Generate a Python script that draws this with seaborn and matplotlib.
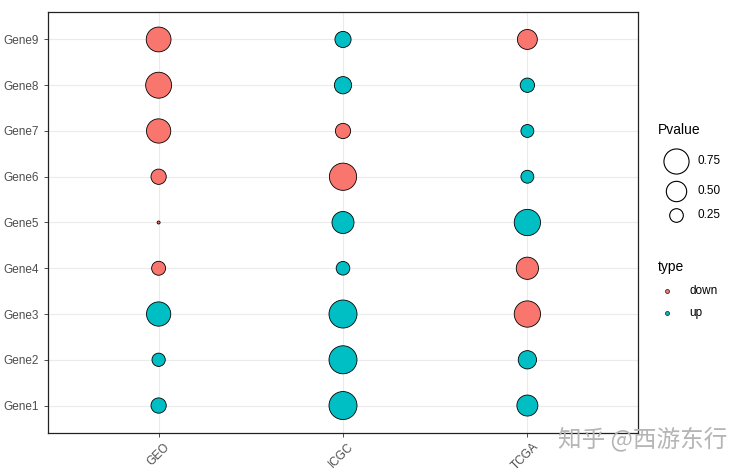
import numpy as np
import pandas as pd
import matplotlib.pyplot as plt
import matplotlib.transforms as mtransforms
import seaborn as sns

# ── data ──────────────────────────────────────────────────────────
genes = ['Gene1', 'Gene2', 'Gene3', 'Gene4', 'Gene5', 'Gene6', 'Gene7', 'Gene8', 'Gene9']
sources = ['GEO', 'ICGC', 'TCGA']

geo_p = [0.30, 0.24, 0.70, 0.26, 0.10, 0.30, 0.70, 0.80, 0.73]
icgc_p = [0.93, 0.93, 0.93, 0.25, 0.58, 0.88, 0.30, 0.37, 0.33]
tcga_p = [0.53, 0.41, 0.82, 0.59, 0.82, 0.23, 0.23, 0.27, 0.48]

geo_type = ['up', 'up', 'up', 'down', 'down', 'down', 'down', 'down', 'down']
icgc_type = ['up', 'up', 'up', 'up', 'up', 'down', 'down', 'up', 'up']
tcga_type = ['up', 'up', 'down', 'down', 'up', 'up', 'up', 'up', 'down']

legend_p = [0.75, 0.50, 0.25]
legend_types = ['down', 'up']

df = pd.DataFrame({
    'source': np.repeat(sources, len(genes)),
    'gene': genes * len(sources),
    'Pvalue': geo_p + icgc_p + tcga_p,
    'type': geo_type + icgc_type + tcga_type,
})

palette = {'down': '#F8766D', 'up': '#00BFC4'}


def diam_px(p):
    # ggplot-like area scale: diameter grows with sqrt of rescaled value
    return 3 + 25 * np.sqrt(max(p - 0.1, 0) / 0.83)


def area_pt(p):
    return (diam_px(p) * 0.72) ** 2


sizes = {p: area_pt(p) for p in df['Pvalue'].unique()}

# ── plot ──────────────────────────────────────────────────────────
sns.set_style('white')
plt.rcParams['font.family'] = ['Liberation Sans', 'DejaVu Sans']

W, H = 730, 472
fig = plt.figure(figsize=(W / 100, H / 100), dpi=100)
ax = fig.add_axes([48 / W, 1 - 433 / H, 590 / W, 421 / H])

ax.set_axisbelow(True)
ax.grid(True, color='#EBEBEB', linewidth=0.8)

sns.scatterplot(data=df, x='source', y='gene', hue='type', size='Pvalue',
                palette=palette, sizes=sizes, edgecolor='black', linewidth=0.6,
                legend=False, ax=ax, zorder=3)

ax.set_xlim(-0.6, 2.6)
ax.set_ylim(-0.6, 8.6)
ax.set_xlabel('')
ax.set_ylabel('')

for s in ax.spines.values():
    s.set_color('#222222')
    s.set_linewidth(0.9)

ax.tick_params(axis='both', which='both', length=3, width=0.6, color='#333333',
               labelsize=8.5, labelcolor='#4D4D4D', direction='out',
               bottom=True, left=True)
plt.setp(ax.get_xticklabels(), rotation=45, ha='right', va='center',
         rotation_mode='anchor')
shift = mtransforms.ScaledTranslation(9 / 100, -3 / 100, fig.dpi_scale_trans)
for lab in ax.get_xticklabels():
    lab.set_transform(lab.get_transform() + shift)

# ── legends, laid out in pixel space like ggplot guides ───────────
lg = fig.add_axes([0, 0, 1, 1], facecolor='none')
lg.set_xlim(0, W)
lg.set_ylim(H, 0)
lg.axis('off')

left = 658
lg.text(left, 130, 'Pvalue', fontsize=10, color='black', va='center', ha='left')
y = 145
for p in legend_p:
    d = diam_px(p)
    key_h = d + 7
    yc = y + key_h / 2
    lg.scatter([676], [yc], s=area_pt(p), facecolor='white', edgecolor='black',
               linewidth=0.8, zorder=3)
    lg.text(698, yc, f'{p:.2f}', fontsize=8.5, color='black', va='center', ha='left')
    y += key_h

lg.text(left, 267, 'type', fontsize=10, color='black', va='center', ha='left')
for i, t in enumerate(legend_types):
    yc = 291 + i * 22
    lg.scatter([667], [yc], s=(4 * 0.72) ** 2, facecolor=palette[t],
               edgecolor='#333333', linewidth=0.6, zorder=3)
    lg.text(689, yc, t, fontsize=8.5, color='black', va='center', ha='left')

# watermark
fig.text(0.996, 1 - 440 / H, '知乎 @西游东行', ha='right', va='center',
         fontsize=17, color='#B5B5B5',
         family=['Noto Sans CJK SC', 'DejaVu Sans'])

fig.savefig('out.png', dpi=100, facecolor='white')
plt.close(fig)
